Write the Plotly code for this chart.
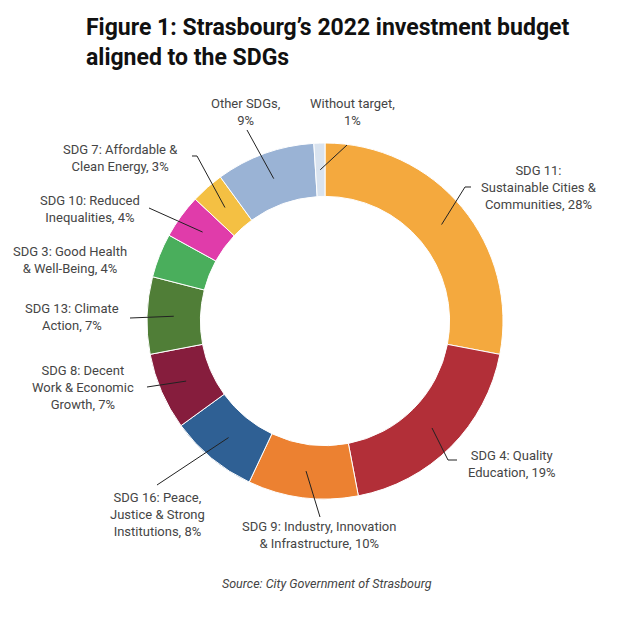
import math
import plotly.graph_objects as go

# ---- data ----
labels = ["SDG 11: Sustainable Cities & Communities", "SDG 4: Quality Education",
          "SDG 9: Industry, Innovation & Infrastructure", "SDG 16: Peace, Justice & Strong Institutions",
          "SDG 8: Decent Work & Economic Growth", "SDG 13: Climate Action",
          "SDG 3: Good Health & Well-Being", "SDG 10: Reduced Inequalities",
          "SDG 7: Affordable & Clean Energy", "Other SDGs", "Without target"]
values = [28, 19, 10, 8, 7, 7, 4, 4, 3, 9, 1]
label_text = ["SDG 11:<br>Sustainable Cities &<br>Communities, 28%",
              "SDG 4: Quality<br>Education, 19%",
              "SDG 9: Industry, Innovation<br>& Infrastructure, 10%",
              "SDG 16: Peace,<br>Justice & Strong<br>Institutions, 8%",
              "SDG 8: Decent<br>Work & Economic<br>Growth, 7%",
              "SDG 13: Climate<br>Action, 7%",
              "SDG 3: Good Health<br>& Well-Being, 4%",
              "SDG 10: Reduced<br>Inequalities, 4%",
              "SDG 7: Affordable &<br>Clean Energy, 3%",
              "Other SDGs,<br>9%",
              "Without target,<br>1%"]
colors = ["#F4A93E", "#B22F38", "#EC8131", "#2F6094", "#861D3D", "#507E37",
          "#4AAE5C", "#E03CAA", "#F4C043", "#9AB3D5", "#D9E3EF"]

# ---- layout ----
W, H = 641, 627
OFF = 8                      # default page body margin
FW, FH = W - OFF, H - OFF
CX, CY, R = 325, 321, 178
HOLE = 0.70
# text centre (px) and leader-line end points (px) per label
label_pos = [(539, 188), (512, 464), (319, 535), (157, 514), (83, 387), (72, 317),
             (70, 260), (90, 209), (120, 158), (245, 112), (352, 112)]
line_pts = [[(465, 187), (471, 187)], [(448, 460), (457, 460)], [(320, 517)], [(157, 485)],
            [(147, 387)], [(130, 318)], [], [(149, 208)], [(197, 156), (192, 156)],
            [(247, 130)], [(347, 145)]]

def px(x):
    return (x - OFF) / FW

def py(y):
    return 1 - (y - OFF) / FH

fig = go.Figure(go.Pie(
    labels=labels, values=values, hole=HOLE, sort=False, direction="clockwise",
    rotation=0, textinfo="none", hoverinfo="label+percent",
    marker=dict(colors=colors, line=dict(color="white", width=1)),
    domain=dict(x=[px(CX - R), px(CX + R)], y=[py(CY + R), py(CY - R)]),
    showlegend=False,
))

total = sum(values)
r_mid = R * (1 + HOLE) / 2
cum = 0
shapes = []
annotations = []
for v, txt, (tx, ty), pts in zip(values, label_text, label_pos, line_pts):
    ang = math.radians((cum + v / 2) / total * 360)
    cum += v
    ax_, ay_ = CX + r_mid * math.sin(ang), CY - r_mid * math.cos(ang)
    if pts:
        path = "M %f,%f" % (px(ax_), py(ay_))
        for (lx, ly) in pts:
            path += " L %f,%f" % (px(lx), py(ly))
        shapes.append(dict(type="path", xref="paper", yref="paper", path=path,
                           line=dict(color="#222222", width=1)))
    annotations.append(dict(x=px(tx), y=py(ty), xref="paper", yref="paper", text=txt,
                            showarrow=False, xanchor="center", yanchor="middle", align="center",
                            font=dict(family="Roboto", size=13, color="#454545")))

annotations.append(dict(x=px(84), y=py(12), xref="paper", yref="paper",
                        text="<b>Figure 1: Strasbourg’s 2022 investment budget<br>aligned to the SDGs</b>",
                        showarrow=False, xanchor="left", yanchor="top", align="left",
                        font=dict(family="Roboto", size=23, color="#111111")))
annotations.append(dict(x=px(327), y=py(583), xref="paper", yref="paper",
                        text="<i>Source: City Government of Strasbourg</i>",
                        showarrow=False, xanchor="center", yanchor="middle",
                        font=dict(family="Roboto", size=12.5, color="#444444")))

fig.update_layout(width=FW, height=FH, margin=dict(l=0, r=0, t=0, b=0),
                  paper_bgcolor="white", plot_bgcolor="white",
                  shapes=shapes, annotations=annotations)
fig.write_html("out.html")
